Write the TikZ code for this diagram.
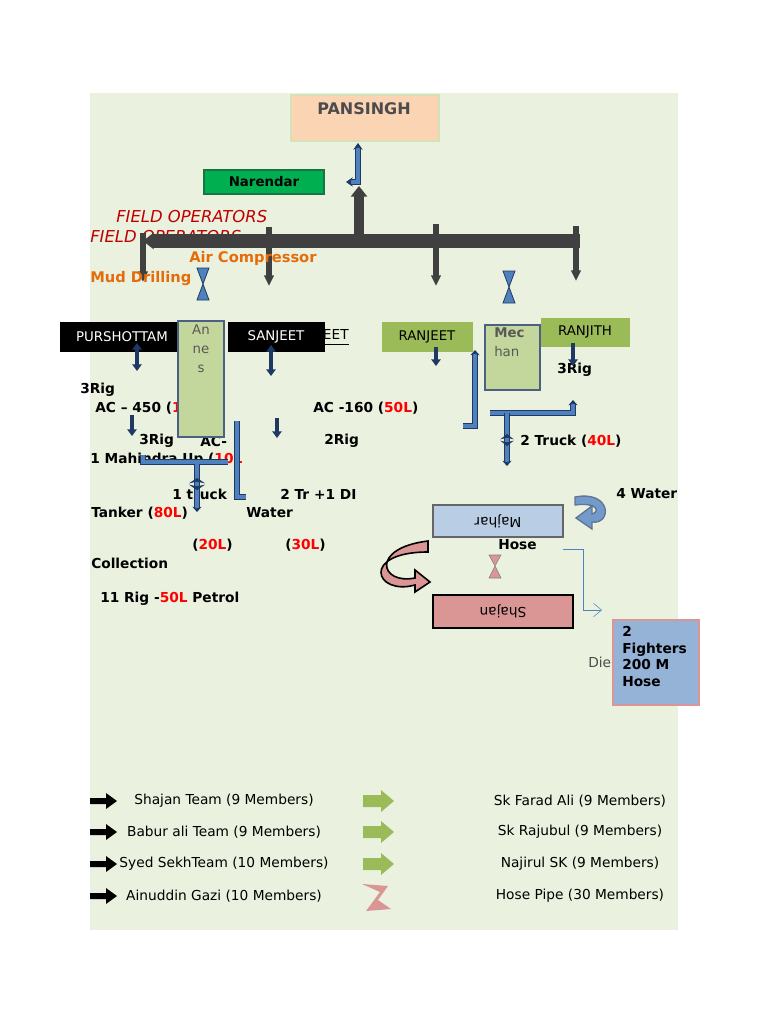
\documentclass[tikz,border=0pt]{standalone}
\usepackage{fontspec}
\setmainfont{DejaVu Sans}
\usetikzlibrary{arrows.meta,shapes.misc}
\definecolor{bg}{HTML}{EAF1DE}
\definecolor{pk}{HTML}{FBD4B4}
\definecolor{lg}{HTML}{C3D69B}
\definecolor{mg}{HTML}{9BBB59}
\definecolor{db}{HTML}{1F3864}
\definecolor{pb}{HTML}{4F81BD}
\definecolor{or}{HTML}{E46C0A}
\definecolor{rd}{HTML}{C00000}
\definecolor{pink}{HTML}{D99694}
\definecolor{gn}{HTML}{00B050}
\begin{document}
\begin{tikzpicture}[x=0.75pt,y=-0.75pt,
 t/.style={font=\fontsize{10.3}{12}\selectfont\bfseries,anchor=west,inner sep=0},
 l/.style={font=\fontsize{10.3}{12}\selectfont,inner sep=0},
 bk/.style={fill=black,text=white,font=\fontsize{10}{12}\selectfont,inner sep=0},
 gr/.style={fill=mg,font=\fontsize{10}{12}\selectfont,inner sep=0},
 sa/.style={db,line width=2.5pt,-{Triangle[length=5pt,width=7pt]}},
 pipe/.style={draw=db,double=pb,line width=1pt,double distance=3pt},
 bar/.style={line width=4pt,draw=black!75,-{Triangle[length=8pt,width=7pt]}},
 hg/.style={fill=pb,draw=db,line width=0.6pt},
 mw/.style={minimum width={#1*0.75pt}},
 mh/.style={minimum height={#1*0.75pt}}]
\useasboundingbox (0,0) rectangle (768,1024);
\fill[bg] (90,93) rectangle (678,930);
% top
\node[draw=lg!70,line width=1.5pt,fill=pk,mw=148,mh=46,anchor=north west,inner sep=0] (pan) at (290,94) {};
\node[font=\fontsize{12}{14}\selectfont\bfseries,text=black!70] at (364,109) {PANSINGH};
\node[draw=db!70!green,line width=1.5pt,fill=gn,mw=120,mh=24,inner sep=0,font=\fontsize{10}{12}\selectfont\bfseries] (nar) at (264,182) {Narendar};
\coordinate (h1) at (358,143);\coordinate (h2) at (358,182);\coordinate (h3) at (346,182);
\draw[pipe,{Stealth[length=5pt,width=7pt]}-{Stealth[length=5pt,width=7pt]}] (h1) -- (h2) -- (h3);
\node[t,font=\fontsize{12.3}{14}\selectfont\itshape,text=rd] (fo1) at (116,217) {FIELD OPERATORS};
\node[t,font=\fontsize{12.3}{14}\selectfont\itshape,text=rd] (fo2) at (90,237) {FIELD OPERATORS};
\coordinate (bl) at (143,241);\coordinate (br) at (580,241);
\draw[line width=10pt,black!75,{Triangle[length=8pt,width=12pt]}-] (bl) -- (br);
\coordinate (vt) at (359,186);\coordinate (vb) at (359,248);
\draw[line width=7pt,black!75,-{Triangle[length=8pt,width=12pt]}] (vb) -- (vt);
\foreach \x/\a/\b in {143/233/282,269/227/286,436/224/286,576/226/281}{
 \draw[bar] (\x,\a) -- (\x,\b);}
\node[t,text=or,font=\fontsize{11}{13}\selectfont\bfseries] (airc) at (189,258) {Air Compressor};
\node[t,text=or,font=\fontsize{11}{13}\selectfont\bfseries] (mud) at (90,279) {Mud Drilling};
\foreach \x/\y in {203/284,509/287}{
 \draw[hg] (\x-6,\y-16) -- (\x+6,\y-16) -- (\x,\y) -- (\x+6,\y+16) -- (\x-6,\y+16) -- (\x,\y) -- cycle;}
% left middle texts
\node[t] (r3a) at (80,390) {3Rig};
\node[t] (ac450) at (95,408) {AC – 450 (\textcolor{red}{10L)}};
\node[t] (ac160) at (313,408) {AC -160 (\textcolor{red}{50L})};
\node[t] (r3b) at (139,441) {3Rig};
\node[t] (acx) at (200,441) {AC-};
\node[t] (r2) at (324,441) {2Rig};
\node[t] (mah) at (90,460) {1 Mahindra Up (\textcolor{red}{10L}};
\node[t] (tr1) at (172,494) {1 truck};
\node[t] (tr2) at (280,494) {2 Tr +1 DI};
\node[t] (tank) at (91,513) {Tanker (\textcolor{red}{80L})};
\node[t] (wat) at (246,513) {Water};
\node[t] (l20) at (192,545) {(\textcolor{red}{20L})};
\node[t] (l30) at (285,545) {(\textcolor{red}{30L})};
\node[t] (col) at (91,563) {Collection};
\node[t] (pet) at (100,599) {11 Rig -\textcolor{red}{50L} Petrol};
\node[l,anchor=west] (eet) at (290,337) {\underline{SANJEET}};
% boxes
\node[bk,mw=125,mh=30] (pur) at (122,337) {PURSHOTTAM};
\node[bk,mw=97,mh=30] (san) at (276,337) {SANJEET};
\node[draw=db!80,line width=1.5pt,fill=lg,mw=46,mh=116,anchor=north west,inner sep=0] (ann) at (177,320) {};
\node[l,text=black!65,align=center,font=\fontsize{10}{14}\selectfont,anchor=north] at (201,325) {An\\ne\\s};
\node[gr,mw=91,mh=30] (ranj) at (427,337) {RANJEET};
\node[draw=db!80,line width=1.5pt,fill=lg,mw=55,mh=65,anchor=north west,inner sep=0] (mec) at (484,324) {};
\node[l,text=black!65,align=left,anchor=north west,font=\fontsize{10}{14}\selectfont] at (494,328) {\textbf{Mec}\\han};
\node[gr,mw=89,mh=29] (rth) at (585,332) {RANJITH};
\node[t] (r3c) at (557,370) {3Rig};
% small arrows
\draw[sa,{Triangle[length=5pt,width=7pt]}-{Triangle[length=5pt,width=7pt]}] (137,343) -- (137,371);
\draw[sa,{Triangle[length=5pt,width=7pt]}-{Triangle[length=5pt,width=7pt]}] (271,345) -- (271,376);
\draw[sa] (436,347) -- (436,366);
\draw[sa] (573,343) -- (573,366);
\draw[sa] (132,415) -- (132,436);
\draw[sa] (277,418) -- (277,438);
% pipes left
\draw[pipe] (143,455) -- (143,462) -- (228,462);
\draw[pipe,-{Stealth[length=4pt,width=7pt]}] (197,464) -- (197,512);
\draw[pipe,{Stealth[length=4pt,width=12pt]}-{Stealth[length=4pt,width=12pt]}] (197,478) -- (197,490);
\draw[pipe] (237,421) -- (237,497) -- (246,497);
% pipes right
\draw[pipe,-{Stealth[length=4pt,width=7pt]}] (463,426) -- (475,426) -- (475,350);
\draw[pipe,-{Stealth[length=4pt,width=7pt]}] (490,413) -- (573,413) -- (573,400);
\draw[pipe,-{Stealth[length=4pt,width=7pt]}] (507,413) -- (507,466);
\draw[pipe,{Stealth[length=4pt,width=10pt]}-{Stealth[length=4pt,width=10pt]}] (507,434) -- (507,446);
\node[t] (trk) at (520,441) {2 Truck (\textcolor{red}{40L})};
% Majhar / Shajan
\node[draw=black!60,line width=1.5pt,mw=130,mh=32,inner sep=0,chamfered rectangle,chamfered rectangle corners=north east,chamfered rectangle xsep=3pt,fill=pb!40] (maj) at (498,521) {};
\node[l,rotate=180] at (498,521) {Majhar};
\draw[draw=db!70,line width=1pt,fill=pb!80] (575,497) .. controls (612,490) and (612,525) .. (592,522) -- (592,529) -- (576,518) -- (592,506) -- (592,514) .. controls (600,512) and (598,502) .. (575,505) -- cycle;
\node[t] (w4) at (616,494) {4 Water};
\node[t] (hose) at (498,545) {Hose};
\draw[fill=pink,draw=black!50] (489,555) -- (501,555) -- (495,566) -- (501,578) -- (489,578) -- (495,566) -- cycle;
\draw[draw=black,line width=1.2pt,fill=pink] (428,541) .. controls (370,548) and (380,585) .. (415,578) -- (415,570) -- (430,582) -- (415,592) -- (415,585) .. controls (375,596) and (360,552) .. (428,552) -- cycle;
\node[draw=black,line width=1.5pt,fill=pink,mw=140,mh=33,inner sep=0,chamfered rectangle,chamfered rectangle corners=north east,chamfered rectangle xsep=3pt] (sha) at (503,611) {};
\node[l,rotate=180] at (503,611) {Shajan};
\coordinate (c1) at (563,549);
\draw[pb,-{Straight Barb[length=6pt,width=10pt]}] (c1) -- (583,549) -- (583,610) -- (602,610);
\node[l,anchor=west,text=black!70] (die) at (588,662) {Die};
\node[draw=pink,line width=1.2pt,fill=pb!60,mw=86,mh=85,anchor=north west,inner sep=0] (fig) at (612,619) {};
\node[t,align=left,anchor=north west,font=\fontsize{10.3}{12.5}\selectfont\bfseries] at (622,626) {2\\Fighters\\200 M\\Hose};
% legend
\foreach \y/\a/\b in {801/Shajan Team (9 Members)/Sk Farad Ali (9 Members),832/Babur ali Team (9 Members)/Sk Rajubul (9 Members),864/Syed SekhTeam (10 Members)/Najirul SK (9 Members),896/Ainuddin Gazi (10 Members)/Hose Pipe (30 Members)}{
 \fill (90,\y-3) -- (106,\y-3) -- (106,\y-8) -- (117,\y) -- (106,\y+8) -- (106,\y+3) -- (90,\y+3) -- cycle;
 \node[l] at (224,\y) {\a};
 \node[l] at (580,\y) {\b};}
\foreach \y in {801,832,864}{
 \fill[mg] (363,\y-6) -- (381,\y-6) -- (381,\y-11) -- (394,\y) -- (381,\y+11) -- (381,\y+6) -- (363,\y+6) -- cycle;}
\fill[pink] (362,884) -- (380,892) -- (366,911) -- (391,909) -- (378,900) -- (388,886) -- cycle;
\end{tikzpicture}
\end{document}
